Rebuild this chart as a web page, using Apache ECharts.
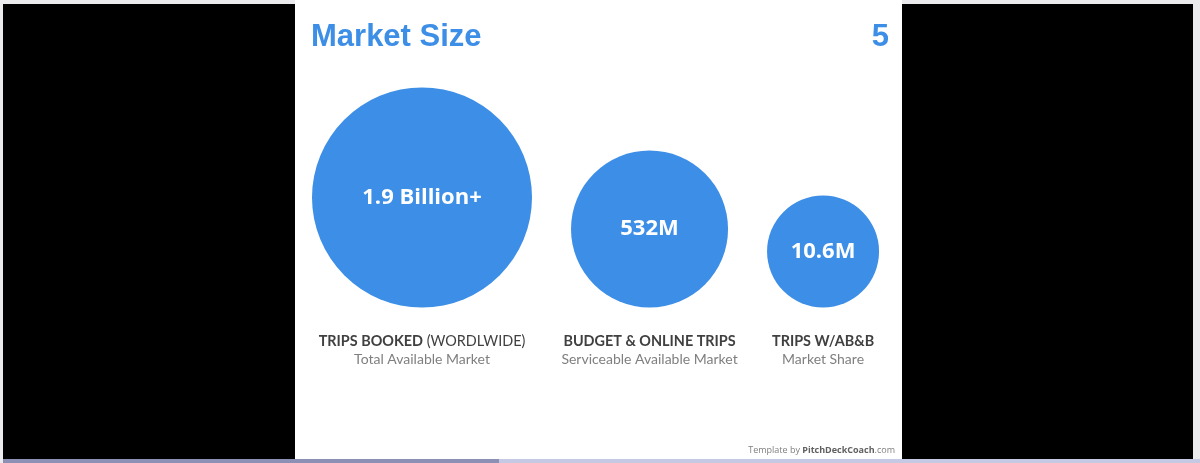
<!DOCTYPE html>
<html><head><meta charset="utf-8">
<script src="https://cdn.jsdelivr.net/npm/echarts@6/dist/echarts.min.js"></script>
<style>
html,body{margin:0;padding:0;background:#ebebee;overflow:hidden}
#wrap{position:relative;width:1200px;height:463px}
.bg{position:absolute}
#c{position:absolute;left:0;top:0;width:1200px;height:463px}
</style>
</head><body><div id="wrap">
<div class="bg" style="left:3px;top:4px;width:1190px;height:455px;background:#000"></div>
<div class="bg" style="left:295px;top:0;width:607px;height:459px;background:#fff"></div>
<div class="bg" style="left:3px;top:459px;width:496px;height:4px;background:#8b90b4"></div>
<div class="bg" style="left:499px;top:459px;width:701px;height:4px;background:#c6c9e3"></div>
<div id="c"></div></div>
<script>
const title = 'Market Size';
const pageNumber = '5';
const categories = ['TRIPS BOOKED', 'BUDGET & ONLINE TRIPS', 'TRIPS W/AB&B'];
const categoryNotes = [' (WORDLWIDE)', '', ''];
const subtitles = ['Total Available Market', 'Serviceable Available Market', 'Market Share'];
const values = [1900, 532, 10.6]; // millions of trips
const valueLabels = ['1.9 Billion+', '532M', '10.6M'];

// size scale: power scale value -> circle diameter
const EXP = 0.65, D_MIN = 112, D_MAX = 220;
const vmin = Math.min(...values), vmax = Math.max(...values);
function diam(v){
  return D_MIN + (D_MAX - D_MIN) * (Math.pow(v, EXP) - Math.pow(vmin, EXP)) / (Math.pow(vmax, EXP) - Math.pow(vmin, EXP));
}
// side-by-side layout along the slide width
const GAP = 39, START = 17;
const centers = []; let acc = START;
values.forEach(v => { const d = diam(v); centers.push(acc + d / 2); acc += d + GAP; });
const seriesData = values.map((v, i) => [centers[i], 0, v]);

const BLUE = '#3d8ee6';
const LBL = '"Lato", "Open Sans", sans-serif';
const chart = echarts.init(document.getElementById('c'), null, {renderer: 'canvas'});
chart.setOption({
  backgroundColor: 'transparent',
  animation: false,
  grid: {left: 295, width: 607, top: 0, bottom: 155.5},
  xAxis: {type: 'value', min: 0, max: 607, show: false},
  yAxis: {type: 'value', min: 0, max: 1, show: false},
  graphic: [
    {type: 'text', left: 311, top: 22, style: {text: title, fill: BLUE, font: 'bold 31px "Liberation Sans", Arial, sans-serif'}},
    {type: 'text', right: 311, top: 22, style: {text: pageNumber, fill: BLUE, font: 'bold 31px "Liberation Sans", Arial, sans-serif'}},
    {type: 'text', right: 305, top: 446, style: {
      text: '{a|Template by }{b|PitchDeckCoach}{a|.com}',
      rich: {a: {fill: '#808080', font: '9px "Open Sans", sans-serif'}, b: {fill: '#606060', font: 'bold 9px "Open Sans", sans-serif'}}
    }}
  ],
  series: [{
    type: 'custom',
    coordinateSystem: 'cartesian2d',
    data: seriesData,
    z: 10,
    renderItem: function (params, api) {
      const i = params.dataIndex;
      const p = api.coord([api.value(0), api.value(1)]);
      const r = diam(api.value(2)) / 2;
      return {type: 'group', children: [
        {type: 'circle', shape: {cx: p[0], cy: p[1] - r, r: r}, style: {fill: BLUE}},
        {type: 'text', style: {text: valueLabels[i], x: p[0], y: p[1] - r, align: 'center', verticalAlign: 'middle', fill: '#fff', font: 'bold 22px "Open Sans", sans-serif'}},
        {type: 'text', x: p[0], y: p[1] + 33, scaleX: 0.9, style: {
          text: '{b|' + categories[i] + '}' + (categoryNotes[i] ? '{n|' + categoryNotes[i] + '}' : ''),
          x: 0, y: 0, align: 'center', verticalAlign: 'middle',
          rich: {
            b: {fill: '#404040', font: 'bold 16px ' + LBL},
            n: {fill: '#404040', font: '16px ' + LBL}
          }
        }},
        {type: 'text', style: {text: subtitles[i], x: p[0], y: p[1] + 52, align: 'center', verticalAlign: 'middle', fill: '#7f7f7f', font: '14px ' + LBL}}
      ]};
    }
  }]
});
</script></body></html>
